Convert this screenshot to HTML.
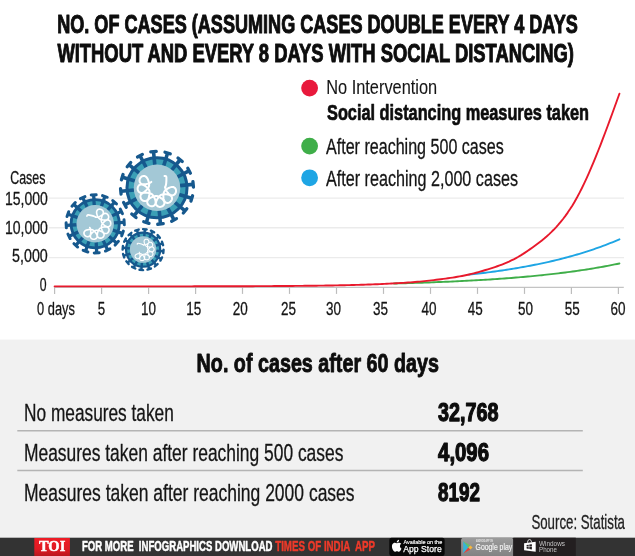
<!DOCTYPE html>
<html><head><meta charset="utf-8"><title>No. of cases</title>
<style>html,body{margin:0;padding:0;background:#fff;overflow:hidden}svg text{white-space:pre}</style></head>
<body>
<svg width="635" height="556" viewBox="0 0 635 556" style="display:block;will-change:transform">
<rect x="0" y="0" width="635" height="556" fill="#ffffff"/>
<text x="57.2" y="33.4" font-family='"Liberation Sans", Arial, sans-serif' font-size="25" font-weight="bold" fill="#0d0d0d" text-anchor="start" textLength="520.6" lengthAdjust="spacingAndGlyphs" stroke="#0d0d0d" stroke-width="1.0" stroke-linejoin="round">NO. OF CASES (ASSUMING CASES DOUBLE EVERY 4 DAYS</text>
<text x="57.4" y="62.1" font-family='"Liberation Sans", Arial, sans-serif' font-size="25" font-weight="bold" fill="#0d0d0d" text-anchor="start" textLength="516.6" lengthAdjust="spacingAndGlyphs" stroke="#0d0d0d" stroke-width="1.0" stroke-linejoin="round">WITHOUT AND EVERY 8 DAYS WITH SOCIAL DISTANCING)</text>
<line x1="49" x2="624" y1="257.6" y2="257.6" stroke="#ebebeb" stroke-width="1.4"/>
<line x1="49" x2="624" y1="227.8" y2="227.8" stroke="#ebebeb" stroke-width="1.4"/>
<line x1="49" x2="624" y1="198.1" y2="198.1" stroke="#ebebeb" stroke-width="1.4"/>
<line x1="54.6" x2="623.8" y1="287.3" y2="287.3" stroke="#c4c4c4" stroke-width="1.2"/>
<line x1="54.6" x2="54.6" y1="287.3" y2="293.9" stroke="#bdbdbd" stroke-width="1.2"/>
<line x1="101.6" x2="101.6" y1="287.3" y2="293.9" stroke="#bdbdbd" stroke-width="1.2"/>
<line x1="148.6" x2="148.6" y1="287.3" y2="293.9" stroke="#bdbdbd" stroke-width="1.2"/>
<line x1="195.6" x2="195.6" y1="287.3" y2="293.9" stroke="#bdbdbd" stroke-width="1.2"/>
<line x1="242.5" x2="242.5" y1="287.3" y2="293.9" stroke="#bdbdbd" stroke-width="1.2"/>
<line x1="289.5" x2="289.5" y1="287.3" y2="293.9" stroke="#bdbdbd" stroke-width="1.2"/>
<line x1="336.5" x2="336.5" y1="287.3" y2="293.9" stroke="#bdbdbd" stroke-width="1.2"/>
<line x1="383.5" x2="383.5" y1="287.3" y2="293.9" stroke="#bdbdbd" stroke-width="1.2"/>
<line x1="430.5" x2="430.5" y1="287.3" y2="293.9" stroke="#bdbdbd" stroke-width="1.2"/>
<line x1="477.5" x2="477.5" y1="287.3" y2="293.9" stroke="#bdbdbd" stroke-width="1.2"/>
<line x1="524.5" x2="524.5" y1="287.3" y2="293.9" stroke="#bdbdbd" stroke-width="1.2"/>
<line x1="571.4" x2="571.4" y1="287.3" y2="293.9" stroke="#bdbdbd" stroke-width="1.2"/>
<line x1="618.4" x2="618.4" y1="287.3" y2="293.9" stroke="#bdbdbd" stroke-width="1.2"/>
<g transform="translate(157.0,187.8)">
<circle r="30.02" fill="#3b9fb6"/>
<g transform="rotate(17.00)"><rect x="22.99" y="-1.80" width="13.06" height="3.60" fill="#16588d"/><line x1="36.35" y1="-2.75" x2="36.35" y2="2.75" stroke="#16588d" stroke-width="3.30" stroke-linecap="round"/></g>
<g transform="rotate(39.50)"><rect x="22.99" y="-1.80" width="13.06" height="3.60" fill="#16588d"/><line x1="36.35" y1="-2.75" x2="36.35" y2="2.75" stroke="#16588d" stroke-width="3.30" stroke-linecap="round"/></g>
<g transform="rotate(62.00)"><rect x="22.99" y="-1.80" width="13.06" height="3.60" fill="#16588d"/><line x1="36.35" y1="-2.75" x2="36.35" y2="2.75" stroke="#16588d" stroke-width="3.30" stroke-linecap="round"/></g>
<g transform="rotate(84.50)"><rect x="22.99" y="-1.80" width="13.06" height="3.60" fill="#16588d"/><line x1="36.35" y1="-2.75" x2="36.35" y2="2.75" stroke="#16588d" stroke-width="3.30" stroke-linecap="round"/></g>
<g transform="rotate(107.00)"><rect x="22.99" y="-1.80" width="13.06" height="3.60" fill="#16588d"/><line x1="36.35" y1="-2.75" x2="36.35" y2="2.75" stroke="#16588d" stroke-width="3.30" stroke-linecap="round"/></g>
<g transform="rotate(129.50)"><rect x="22.99" y="-1.80" width="13.06" height="3.60" fill="#16588d"/><line x1="36.35" y1="-2.75" x2="36.35" y2="2.75" stroke="#16588d" stroke-width="3.30" stroke-linecap="round"/></g>
<g transform="rotate(152.00)"><rect x="22.99" y="-1.80" width="13.06" height="3.60" fill="#16588d"/><line x1="36.35" y1="-2.75" x2="36.35" y2="2.75" stroke="#16588d" stroke-width="3.30" stroke-linecap="round"/></g>
<g transform="rotate(174.50)"><rect x="22.99" y="-1.80" width="13.06" height="3.60" fill="#16588d"/><line x1="36.35" y1="-2.75" x2="36.35" y2="2.75" stroke="#16588d" stroke-width="3.30" stroke-linecap="round"/></g>
<g transform="rotate(197.00)"><rect x="22.99" y="-1.80" width="13.06" height="3.60" fill="#16588d"/><line x1="36.35" y1="-2.75" x2="36.35" y2="2.75" stroke="#16588d" stroke-width="3.30" stroke-linecap="round"/></g>
<g transform="rotate(219.50)"><rect x="22.99" y="-1.80" width="13.06" height="3.60" fill="#16588d"/><line x1="36.35" y1="-2.75" x2="36.35" y2="2.75" stroke="#16588d" stroke-width="3.30" stroke-linecap="round"/></g>
<g transform="rotate(242.00)"><rect x="22.99" y="-1.80" width="13.06" height="3.60" fill="#16588d"/><line x1="36.35" y1="-2.75" x2="36.35" y2="2.75" stroke="#16588d" stroke-width="3.30" stroke-linecap="round"/></g>
<g transform="rotate(264.50)"><rect x="22.99" y="-1.80" width="13.06" height="3.60" fill="#16588d"/><line x1="36.35" y1="-2.75" x2="36.35" y2="2.75" stroke="#16588d" stroke-width="3.30" stroke-linecap="round"/></g>
<g transform="rotate(287.00)"><rect x="22.99" y="-1.80" width="13.06" height="3.60" fill="#16588d"/><line x1="36.35" y1="-2.75" x2="36.35" y2="2.75" stroke="#16588d" stroke-width="3.30" stroke-linecap="round"/></g>
<g transform="rotate(309.50)"><rect x="22.99" y="-1.80" width="13.06" height="3.60" fill="#16588d"/><line x1="36.35" y1="-2.75" x2="36.35" y2="2.75" stroke="#16588d" stroke-width="3.30" stroke-linecap="round"/></g>
<g transform="rotate(332.00)"><rect x="22.99" y="-1.80" width="13.06" height="3.60" fill="#16588d"/><line x1="36.35" y1="-2.75" x2="36.35" y2="2.75" stroke="#16588d" stroke-width="3.30" stroke-linecap="round"/></g>
<g transform="rotate(354.50)"><rect x="22.99" y="-1.80" width="13.06" height="3.60" fill="#16588d"/><line x1="36.35" y1="-2.75" x2="36.35" y2="2.75" stroke="#16588d" stroke-width="3.30" stroke-linecap="round"/></g>
<circle r="30.02" fill="none" stroke="#16588d" stroke-width="3.00"/>
<circle r="23.29" fill="#a3c8d6"/>
<g transform="rotate(0)" fill="none" stroke="#ffffff" stroke-width="2.00" stroke-linecap="round" stroke-linejoin="round">
<path d="M-5.69,-5.90 L-6.12,-5.53 L-6.60,-5.21 L-7.14,-4.91 L-7.74,-4.64 L-8.39,-4.40 L-9.09,-4.16 L-9.83,-3.95 L-10.61,-3.76 L-11.40,-3.61 L-12.21,-3.50 L-13.02,-3.46 L-13.80,-3.49 L-14.55,-3.61 L-15.26,-3.84 L-15.90,-4.17 L-16.45,-4.62 L-16.90,-5.17 L-17.24,-5.82 L-17.44,-6.55 L-17.50,-7.33 L-17.41,-8.13 L-17.18,-8.92 L-16.81,-9.68 L-16.32,-10.35 L-15.73,-10.93 L-15.07,-11.37 L-14.36,-11.68 L-13.63,-11.84 L-12.91,-11.84 L-12.21,-11.70 L-11.56,-11.41 L-10.96,-11.00 L-10.42,-10.48 L-9.95,-9.88 L-9.53,-9.20 L-9.17,-8.48 L-8.86,-7.72 L-8.60,-6.96 L-8.37,-6.20 L-8.19,-5.46 L-8.04,-4.75 L-7.93,-4.07 L-7.87,-3.43 L-7.86,-2.83 L-7.91,-2.26 L-8.02,-1.71 L-8.20,-1.17 L-8.45,-0.64 L-8.76,-0.10 L-9.13,0.46 L-9.56,1.02 L-10.03,1.60 L-10.56,2.18 L-11.12,2.76 L-11.71,3.31 L-12.34,3.82 L-13.00,4.28 L-13.69,4.65 L-14.39,4.93 L-15.11,5.09 L-15.82,5.11 L-16.52,5.00 L-17.19,4.73 L-17.81,4.33 L-18.35,3.79 L-18.79,3.14 L-19.12,2.39 L-19.31,1.59 L-19.37,0.75 L-19.29,-0.08 L-19.07,-0.86 L-18.72,-1.57 L-18.26,-2.19 L-17.71,-2.68 L-17.08,-3.03 L-16.40,-3.25 L-15.69,-3.32 L-14.96,-3.27 L-14.23,-3.09 L-13.51,-2.81 L-12.80,-2.44 L-12.11,-2.01 L-11.45,-1.54 L-10.82,-1.03 L-10.23,-0.51 L-9.69,0.01 L-9.19,0.52 L-8.75,1.03 L-8.37,1.53 L-8.05,2.03 L-7.80,2.54 L-7.62,3.07 L-7.50,3.63 L-7.43,4.22 L-7.41,4.86 L-7.43,5.53 L-7.50,6.25 L-7.59,7.01 L-7.72,7.78 L-7.89,8.57 L-8.11,9.36 L-8.37,10.12 L-8.70,10.85 L-9.09,11.52 L-9.55,12.11 L-10.09,12.60 L-10.70,12.97 L-11.37,13.22 L-12.08,13.32 L-12.82,13.27 L-13.56,13.07 L-14.28,12.72 L-14.94,12.23 L-15.52,11.63 L-15.99,10.94 L-16.33,10.18 L-16.53,9.40 L-16.58,8.61 L-16.48,7.86 L-16.24,7.17 L-15.88,6.55 L-15.39,6.03 L-14.81,5.61 L-14.15,5.29 L-13.42,5.07 L-12.65,4.94 L-11.85,4.88 L-11.03,4.89 L-10.22,4.94 L-9.43,5.03 L-8.66,5.16 L-7.93,5.30 L-7.25,5.47 L-6.62,5.67 L-6.04,5.89 L-5.52,6.15 L-5.05,6.46 L-4.62,6.82 L-4.22,7.24 L-3.84,7.72 L-3.49,8.26 L-3.14,8.86 L-2.81,9.51 L-2.49,10.21 L-2.18,10.94 L-1.91,11.70 L-1.67,12.48 L-1.50,13.27 L-1.40,14.06 L-1.40,14.82 L-1.50,15.56 L-1.72,16.25 L-2.06,16.87 L-2.52,17.42 L-3.10,17.86 L-3.77,18.18 L-4.53,18.38 L-5.33,18.43 L-6.15,18.34 L-6.95,18.11 L-7.70,17.74 L-8.37,17.26 L-8.93,16.69 L-9.36,16.04 L-9.65,15.34 L-9.78,14.63 L-9.76,13.92 L-9.60,13.22 L-9.30,12.57 L-8.88,11.95 L-8.36,11.38 L-7.77,10.87 L-7.11,10.40 L-6.42,9.97 L-5.70,9.59 L-4.98,9.25 L-4.28,8.95 L-3.59,8.69 L-2.93,8.47 L-2.31,8.31 L-1.71,8.20 L-1.13,8.16 L-0.57,8.18 L-0.02,8.27 L0.55,8.42 L1.13,8.64 L1.72,8.92 L2.34,9.25 L2.98,9.63 L3.64,10.05 L4.29,10.51 L4.93,11.01 L5.54,11.55 L6.09,12.13 L6.58,12.75 L6.97,13.40 L7.25,14.08 L7.40,14.78 L7.41,15.49 L7.28,16.20 L6.99,16.87 L6.56,17.49 L5.99,18.04 L5.32,18.49 L4.56,18.82 L3.75,19.02 L2.92,19.09 L2.10,19.00 L1.34,18.79 L0.65,18.44 L0.07,17.98 L-0.40,17.43 L-0.73,16.80 L-0.93,16.11 L-1.00,15.39 L-0.95,14.64 L-0.79,13.88 L-0.55,13.13 L-0.24,12.38 L0.13,11.65 L0.53,10.95 L0.95,10.29 L1.39,9.66 L1.82,9.09 L2.26,8.57 L2.70,8.11 L3.14,7.71 L3.61,7.38 L4.10,7.11 L4.63,6.90 L5.20,6.74 L5.81,6.62 L6.48,6.53 L7.19,6.48 L7.95,6.46 L8.73,6.47 L9.54,6.52 L10.35,6.61 L11.15,6.75 L11.92,6.95 L12.64,7.23 L13.31,7.59 L13.89,8.03 L14.36,8.56 L14.72,9.18 L14.95,9.86 L15.03,10.59 L14.96,11.36 L14.75,12.12 L14.38,12.85 L13.89,13.52 L13.29,14.10 L12.60,14.57 L11.86,14.90 L11.10,15.09 L10.34,15.13 L9.61,15.02 L8.94,14.77 L8.34,14.39 L7.82,13.89 L7.40,13.29 L7.06,12.61 L6.80,11.88 L6.61,11.10 L6.49,10.30 L6.42,9.49 L6.38,8.68 L6.39,7.90 L6.42,7.15 L6.48,6.45 L6.57,5.79 L6.70,5.18 L6.88,4.62 L7.11,4.10 L7.39,3.61 L7.73,3.16 L8.14,2.71 L8.61,2.28 L9.15,1.85 L9.73,1.42 L10.37,1.00 L11.05,0.58 L11.75,0.19 L12.49,-0.16 L13.24,-0.46 L14.00,-0.68 L14.76,-0.82 L15.50,-0.84 L16.22,-0.75 L16.90,-0.52 L17.51,-0.16 L18.05,0.32 L18.49,0.93 L18.81,1.63 L19.00,2.41 L19.05,3.23 L18.96,4.06 L18.74,4.86 L18.38,5.61 L17.91,6.26 L17.34,6.80 L16.71,7.21 L16.02,7.46 L15.32,7.57 L14.61,7.53 L13.91,7.36 L13.23,7.05 L12.59,6.64 L11.99,6.14 L11.42,5.57 L10.89,4.95 L10.40,4.30 L9.95,3.64 L9.54,2.99 L9.17,2.35 L8.86,1.73 L8.59,1.13 L8.39,0.55 L8.25,-0.01 L8.18,-0.57"/>
<path d="M8.18,-0.57 Q9.60,-3.50 9.40,-10.60 q-0.20,-1.60 -1.90,-1.20"/>
</g></g>
<g transform="translate(95.2,223.8)">
<circle r="24.10" fill="#3b9fb6"/>
<g transform="rotate(-3.00)"><rect x="18.40" y="-1.65" width="10.30" height="3.30" fill="#16588d"/><line x1="29.00" y1="-2.50" x2="29.00" y2="2.50" stroke="#16588d" stroke-width="3.00" stroke-linecap="round"/></g>
<g transform="rotate(19.50)"><rect x="18.40" y="-1.65" width="10.30" height="3.30" fill="#16588d"/><line x1="29.00" y1="-2.50" x2="29.00" y2="2.50" stroke="#16588d" stroke-width="3.00" stroke-linecap="round"/></g>
<g transform="rotate(42.00)"><rect x="18.40" y="-1.65" width="10.30" height="3.30" fill="#16588d"/><line x1="29.00" y1="-2.50" x2="29.00" y2="2.50" stroke="#16588d" stroke-width="3.00" stroke-linecap="round"/></g>
<g transform="rotate(64.50)"><rect x="18.40" y="-1.65" width="10.30" height="3.30" fill="#16588d"/><line x1="29.00" y1="-2.50" x2="29.00" y2="2.50" stroke="#16588d" stroke-width="3.00" stroke-linecap="round"/></g>
<g transform="rotate(87.00)"><rect x="18.40" y="-1.65" width="10.30" height="3.30" fill="#16588d"/><line x1="29.00" y1="-2.50" x2="29.00" y2="2.50" stroke="#16588d" stroke-width="3.00" stroke-linecap="round"/></g>
<g transform="rotate(109.50)"><rect x="18.40" y="-1.65" width="10.30" height="3.30" fill="#16588d"/><line x1="29.00" y1="-2.50" x2="29.00" y2="2.50" stroke="#16588d" stroke-width="3.00" stroke-linecap="round"/></g>
<g transform="rotate(132.00)"><rect x="18.40" y="-1.65" width="10.30" height="3.30" fill="#16588d"/><line x1="29.00" y1="-2.50" x2="29.00" y2="2.50" stroke="#16588d" stroke-width="3.00" stroke-linecap="round"/></g>
<g transform="rotate(154.50)"><rect x="18.40" y="-1.65" width="10.30" height="3.30" fill="#16588d"/><line x1="29.00" y1="-2.50" x2="29.00" y2="2.50" stroke="#16588d" stroke-width="3.00" stroke-linecap="round"/></g>
<g transform="rotate(177.00)"><rect x="18.40" y="-1.65" width="10.30" height="3.30" fill="#16588d"/><line x1="29.00" y1="-2.50" x2="29.00" y2="2.50" stroke="#16588d" stroke-width="3.00" stroke-linecap="round"/></g>
<g transform="rotate(199.50)"><rect x="18.40" y="-1.65" width="10.30" height="3.30" fill="#16588d"/><line x1="29.00" y1="-2.50" x2="29.00" y2="2.50" stroke="#16588d" stroke-width="3.00" stroke-linecap="round"/></g>
<g transform="rotate(222.00)"><rect x="18.40" y="-1.65" width="10.30" height="3.30" fill="#16588d"/><line x1="29.00" y1="-2.50" x2="29.00" y2="2.50" stroke="#16588d" stroke-width="3.00" stroke-linecap="round"/></g>
<g transform="rotate(244.50)"><rect x="18.40" y="-1.65" width="10.30" height="3.30" fill="#16588d"/><line x1="29.00" y1="-2.50" x2="29.00" y2="2.50" stroke="#16588d" stroke-width="3.00" stroke-linecap="round"/></g>
<g transform="rotate(267.00)"><rect x="18.40" y="-1.65" width="10.30" height="3.30" fill="#16588d"/><line x1="29.00" y1="-2.50" x2="29.00" y2="2.50" stroke="#16588d" stroke-width="3.00" stroke-linecap="round"/></g>
<g transform="rotate(289.50)"><rect x="18.40" y="-1.65" width="10.30" height="3.30" fill="#16588d"/><line x1="29.00" y1="-2.50" x2="29.00" y2="2.50" stroke="#16588d" stroke-width="3.00" stroke-linecap="round"/></g>
<g transform="rotate(312.00)"><rect x="18.40" y="-1.65" width="10.30" height="3.30" fill="#16588d"/><line x1="29.00" y1="-2.50" x2="29.00" y2="2.50" stroke="#16588d" stroke-width="3.00" stroke-linecap="round"/></g>
<g transform="rotate(334.50)"><rect x="18.40" y="-1.65" width="10.30" height="3.30" fill="#16588d"/><line x1="29.00" y1="-2.50" x2="29.00" y2="2.50" stroke="#16588d" stroke-width="3.00" stroke-linecap="round"/></g>
<circle r="24.10" fill="none" stroke="#16588d" stroke-width="2.80"/>
<circle r="18.70" fill="#a3c8d6"/>
<g transform="rotate(-80)" fill="none" stroke="#ffffff" stroke-width="1.60" stroke-linecap="round" stroke-linejoin="round">
<path d="M-4.57,-4.73 L-4.91,-4.44 L-5.30,-4.18 L-5.73,-3.94 L-6.21,-3.73 L-6.73,-3.53 L-7.29,-3.34 L-7.89,-3.17 L-8.51,-3.02 L-9.15,-2.90 L-9.80,-2.81 L-10.45,-2.78 L-11.08,-2.80 L-11.68,-2.90 L-12.25,-3.08 L-12.76,-3.35 L-13.20,-3.71 L-13.57,-4.15 L-13.83,-4.67 L-14.00,-5.26 L-14.04,-5.88 L-13.97,-6.53 L-13.79,-7.16 L-13.49,-7.77 L-13.10,-8.31 L-12.63,-8.77 L-12.10,-9.13 L-11.53,-9.38 L-10.94,-9.50 L-10.36,-9.50 L-9.80,-9.39 L-9.27,-9.16 L-8.79,-8.83 L-8.36,-8.41 L-7.98,-7.93 L-7.65,-7.38 L-7.36,-6.80 L-7.11,-6.20 L-6.90,-5.58 L-6.72,-4.97 L-6.57,-4.38 L-6.45,-3.81 L-6.36,-3.27 L-6.31,-2.75 L-6.31,-2.27 L-6.35,-1.81 L-6.44,-1.37 L-6.58,-0.94 L-6.78,-0.51 L-7.03,-0.08 L-7.33,0.37 L-7.67,0.82 L-8.05,1.28 L-8.47,1.75 L-8.92,2.21 L-9.40,2.66 L-9.91,3.07 L-10.43,3.43 L-10.98,3.73 L-11.55,3.96 L-12.12,4.08 L-12.70,4.10 L-13.26,4.01 L-13.80,3.80 L-14.29,3.48 L-14.73,3.04 L-15.08,2.52 L-15.34,1.92 L-15.50,1.27 L-15.55,0.60 L-15.48,-0.06 L-15.30,-0.69 L-15.02,-1.26 L-14.66,-1.75 L-14.21,-2.15 L-13.71,-2.43 L-13.17,-2.61 L-12.59,-2.67 L-12.01,-2.62 L-11.42,-2.48 L-10.84,-2.26 L-10.27,-1.96 L-9.72,-1.62 L-9.19,-1.23 L-8.69,-0.83 L-8.21,-0.41 L-7.77,0.00 L-7.38,0.42 L-7.02,0.82 L-6.72,1.23 L-6.46,1.63 L-6.26,2.04 L-6.12,2.46 L-6.02,2.91 L-5.96,3.39 L-5.95,3.90 L-5.97,4.44 L-6.02,5.02 L-6.09,5.62 L-6.20,6.25 L-6.34,6.88 L-6.51,7.51 L-6.72,8.13 L-6.98,8.71 L-7.30,9.24 L-7.67,9.72 L-8.10,10.11 L-8.59,10.41 L-9.12,10.61 L-9.70,10.69 L-10.29,10.65 L-10.89,10.49 L-11.46,10.21 L-11.99,9.82 L-12.45,9.33 L-12.83,8.78 L-13.10,8.17 L-13.26,7.54 L-13.31,6.91 L-13.23,6.31 L-13.04,5.75 L-12.74,5.26 L-12.35,4.84 L-11.89,4.50 L-11.35,4.25 L-10.77,4.07 L-10.15,3.96 L-9.51,3.92 L-8.86,3.92 L-8.20,3.97 L-7.57,4.04 L-6.95,4.14 L-6.36,4.26 L-5.82,4.39 L-5.31,4.55 L-4.85,4.73 L-4.43,4.94 L-4.05,5.19 L-3.70,5.48 L-3.39,5.81 L-3.09,6.20 L-2.80,6.63 L-2.52,7.11 L-2.25,7.63 L-2.00,8.19 L-1.75,8.78 L-1.53,9.39 L-1.34,10.02 L-1.20,10.65 L-1.13,11.28 L-1.12,11.90 L-1.20,12.49 L-1.38,13.04 L-1.65,13.54 L-2.02,13.98 L-2.49,14.33 L-3.03,14.59 L-3.63,14.75 L-4.28,14.79 L-4.93,14.72 L-5.58,14.53 L-6.18,14.24 L-6.72,13.85 L-7.17,13.39 L-7.51,12.87 L-7.74,12.32 L-7.85,11.74 L-7.83,11.17 L-7.70,10.61 L-7.46,10.09 L-7.13,9.59 L-6.71,9.14 L-6.23,8.72 L-5.71,8.35 L-5.15,8.01 L-4.58,7.70 L-4.00,7.42 L-3.43,7.18 L-2.88,6.97 L-2.35,6.80 L-1.85,6.67 L-1.37,6.58 L-0.91,6.55 L-0.46,6.56 L-0.01,6.64 L0.44,6.76 L0.90,6.93 L1.38,7.16 L1.88,7.42 L2.40,7.73 L2.92,8.07 L3.44,8.44 L3.96,8.84 L4.44,9.27 L4.89,9.74 L5.28,10.23 L5.59,10.75 L5.82,11.30 L5.94,11.86 L5.95,12.44 L5.84,13.00 L5.61,13.54 L5.26,14.04 L4.81,14.48 L4.27,14.84 L3.66,15.11 L3.01,15.27 L2.34,15.32 L1.69,15.25 L1.07,15.08 L0.52,14.80 L0.05,14.43 L-0.32,13.99 L-0.59,13.48 L-0.75,12.93 L-0.80,12.35 L-0.76,11.75 L-0.64,11.14 L-0.44,10.54 L-0.19,9.94 L0.11,9.35 L0.43,8.79 L0.77,8.26 L1.11,7.75 L1.46,7.29 L1.81,6.88 L2.16,6.51 L2.52,6.19 L2.90,5.92 L3.29,5.71 L3.71,5.54 L4.17,5.41 L4.67,5.31 L5.20,5.24 L5.77,5.20 L6.38,5.19 L7.01,5.20 L7.66,5.23 L8.31,5.30 L8.95,5.42 L9.57,5.58 L10.15,5.80 L10.68,6.09 L11.14,6.45 L11.53,6.87 L11.82,7.36 L12.00,7.91 L12.06,8.50 L12.01,9.11 L11.84,9.73 L11.54,10.31 L11.15,10.85 L10.67,11.32 L10.12,11.69 L9.52,11.96 L8.91,12.12 L8.30,12.15 L7.71,12.06 L7.17,11.85 L6.69,11.55 L6.28,11.15 L5.94,10.67 L5.66,10.13 L5.46,9.53 L5.31,8.91 L5.21,8.26 L5.15,7.61 L5.12,6.97 L5.13,6.34 L5.15,5.74 L5.20,5.18 L5.28,4.65 L5.38,4.16 L5.52,3.71 L5.70,3.29 L5.93,2.90 L6.21,2.53 L6.54,2.18 L6.91,1.83 L7.34,1.49 L7.81,1.14 L8.32,0.80 L8.87,0.47 L9.43,0.16 L10.02,-0.13 L10.63,-0.37 L11.24,-0.55 L11.85,-0.66 L12.44,-0.68 L13.02,-0.60 L13.56,-0.42 L14.06,-0.13 L14.49,0.26 L14.84,0.74 L15.10,1.31 L15.25,1.93 L15.29,2.59 L15.22,3.26 L15.04,3.90 L14.75,4.50 L14.37,5.03 L13.92,5.46 L13.41,5.78 L12.86,5.99 L12.29,6.08 L11.72,6.05 L11.16,5.90 L10.62,5.66 L10.11,5.33 L9.62,4.93 L9.17,4.47 L8.74,3.97 L8.35,3.45 L7.99,2.92 L7.66,2.40 L7.36,1.88 L7.11,1.38 L6.90,0.90 L6.73,0.44 L6.62,-0.01 L6.56,-0.46"/>
<path d="M6.56,-0.46 Q7.70,-2.81 7.54,-8.51 q-0.16,-1.28 -1.52,-0.96"/>
</g></g>
<g transform="translate(143.1,249.6)">
<circle r="17.06" fill="#3b9fb6"/>
<g transform="rotate(5.00)"><rect x="12.94" y="-1.25" width="7.16" height="2.50" fill="#16588d"/><line x1="20.40" y1="-1.80" x2="20.40" y2="1.80" stroke="#16588d" stroke-width="2.40" stroke-linecap="round"/></g>
<g transform="rotate(27.50)"><rect x="12.94" y="-1.25" width="7.16" height="2.50" fill="#16588d"/><line x1="20.40" y1="-1.80" x2="20.40" y2="1.80" stroke="#16588d" stroke-width="2.40" stroke-linecap="round"/></g>
<g transform="rotate(50.00)"><rect x="12.94" y="-1.25" width="7.16" height="2.50" fill="#16588d"/><line x1="20.40" y1="-1.80" x2="20.40" y2="1.80" stroke="#16588d" stroke-width="2.40" stroke-linecap="round"/></g>
<g transform="rotate(72.50)"><rect x="12.94" y="-1.25" width="7.16" height="2.50" fill="#16588d"/><line x1="20.40" y1="-1.80" x2="20.40" y2="1.80" stroke="#16588d" stroke-width="2.40" stroke-linecap="round"/></g>
<g transform="rotate(95.00)"><rect x="12.94" y="-1.25" width="7.16" height="2.50" fill="#16588d"/><line x1="20.40" y1="-1.80" x2="20.40" y2="1.80" stroke="#16588d" stroke-width="2.40" stroke-linecap="round"/></g>
<g transform="rotate(117.50)"><rect x="12.94" y="-1.25" width="7.16" height="2.50" fill="#16588d"/><line x1="20.40" y1="-1.80" x2="20.40" y2="1.80" stroke="#16588d" stroke-width="2.40" stroke-linecap="round"/></g>
<g transform="rotate(140.00)"><rect x="12.94" y="-1.25" width="7.16" height="2.50" fill="#16588d"/><line x1="20.40" y1="-1.80" x2="20.40" y2="1.80" stroke="#16588d" stroke-width="2.40" stroke-linecap="round"/></g>
<g transform="rotate(162.50)"><rect x="12.94" y="-1.25" width="7.16" height="2.50" fill="#16588d"/><line x1="20.40" y1="-1.80" x2="20.40" y2="1.80" stroke="#16588d" stroke-width="2.40" stroke-linecap="round"/></g>
<g transform="rotate(185.00)"><rect x="12.94" y="-1.25" width="7.16" height="2.50" fill="#16588d"/><line x1="20.40" y1="-1.80" x2="20.40" y2="1.80" stroke="#16588d" stroke-width="2.40" stroke-linecap="round"/></g>
<g transform="rotate(207.50)"><rect x="12.94" y="-1.25" width="7.16" height="2.50" fill="#16588d"/><line x1="20.40" y1="-1.80" x2="20.40" y2="1.80" stroke="#16588d" stroke-width="2.40" stroke-linecap="round"/></g>
<g transform="rotate(230.00)"><rect x="12.94" y="-1.25" width="7.16" height="2.50" fill="#16588d"/><line x1="20.40" y1="-1.80" x2="20.40" y2="1.80" stroke="#16588d" stroke-width="2.40" stroke-linecap="round"/></g>
<g transform="rotate(252.50)"><rect x="12.94" y="-1.25" width="7.16" height="2.50" fill="#16588d"/><line x1="20.40" y1="-1.80" x2="20.40" y2="1.80" stroke="#16588d" stroke-width="2.40" stroke-linecap="round"/></g>
<g transform="rotate(275.00)"><rect x="12.94" y="-1.25" width="7.16" height="2.50" fill="#16588d"/><line x1="20.40" y1="-1.80" x2="20.40" y2="1.80" stroke="#16588d" stroke-width="2.40" stroke-linecap="round"/></g>
<g transform="rotate(297.50)"><rect x="12.94" y="-1.25" width="7.16" height="2.50" fill="#16588d"/><line x1="20.40" y1="-1.80" x2="20.40" y2="1.80" stroke="#16588d" stroke-width="2.40" stroke-linecap="round"/></g>
<g transform="rotate(320.00)"><rect x="12.94" y="-1.25" width="7.16" height="2.50" fill="#16588d"/><line x1="20.40" y1="-1.80" x2="20.40" y2="1.80" stroke="#16588d" stroke-width="2.40" stroke-linecap="round"/></g>
<g transform="rotate(342.50)"><rect x="12.94" y="-1.25" width="7.16" height="2.50" fill="#16588d"/><line x1="20.40" y1="-1.80" x2="20.40" y2="1.80" stroke="#16588d" stroke-width="2.40" stroke-linecap="round"/></g>
<circle r="17.06" fill="none" stroke="#16588d" stroke-width="2.20"/>
<circle r="13.24" fill="#a3c8d6"/>
<g transform="rotate(-80)" fill="none" stroke="#ffffff" stroke-width="1.14" stroke-linecap="round" stroke-linejoin="round">
<path d="M-3.24,-3.35 L-3.48,-3.14 L-3.75,-2.96 L-4.06,-2.79 L-4.40,-2.64 L-4.77,-2.50 L-5.17,-2.37 L-5.59,-2.25 L-6.03,-2.14 L-6.48,-2.05 L-6.94,-1.99 L-7.40,-1.97 L-7.84,-1.98 L-8.27,-2.05 L-8.67,-2.18 L-9.04,-2.37 L-9.35,-2.63 L-9.61,-2.94 L-9.80,-3.31 L-9.91,-3.72 L-9.95,-4.17 L-9.90,-4.62 L-9.76,-5.07 L-9.55,-5.50 L-9.28,-5.88 L-8.94,-6.21 L-8.57,-6.47 L-8.16,-6.64 L-7.75,-6.73 L-7.34,-6.73 L-6.94,-6.65 L-6.57,-6.49 L-6.23,-6.25 L-5.92,-5.96 L-5.65,-5.61 L-5.42,-5.23 L-5.21,-4.82 L-5.04,-4.39 L-4.89,-3.95 L-4.76,-3.52 L-4.65,-3.10 L-4.57,-2.70 L-4.51,-2.31 L-4.47,-1.95 L-4.47,-1.61 L-4.50,-1.28 L-4.56,-0.97 L-4.66,-0.67 L-4.80,-0.36 L-4.98,-0.06 L-5.19,0.26 L-5.43,0.58 L-5.70,0.91 L-6.00,1.24 L-6.32,1.57 L-6.66,1.88 L-7.02,2.17 L-7.39,2.43 L-7.78,2.64 L-8.18,2.80 L-8.59,2.89 L-8.99,2.91 L-9.39,2.84 L-9.77,2.69 L-10.12,2.46 L-10.43,2.16 L-10.68,1.78 L-10.87,1.36 L-10.98,0.90 L-11.01,0.43 L-10.96,-0.04 L-10.84,-0.49 L-10.64,-0.89 L-10.38,-1.24 L-10.06,-1.52 L-9.71,-1.72 L-9.32,-1.85 L-8.92,-1.89 L-8.51,-1.86 L-8.09,-1.76 L-7.68,-1.60 L-7.27,-1.39 L-6.88,-1.14 L-6.51,-0.87 L-6.15,-0.59 L-5.82,-0.29 L-5.51,0.00 L-5.22,0.30 L-4.97,0.58 L-4.76,0.87 L-4.58,1.15 L-4.44,1.44 L-4.33,1.75 L-4.26,2.06 L-4.22,2.40 L-4.21,2.76 L-4.23,3.15 L-4.26,3.55 L-4.32,3.98 L-4.39,4.42 L-4.49,4.87 L-4.61,5.32 L-4.76,5.75 L-4.94,6.17 L-5.17,6.55 L-5.43,6.88 L-5.74,7.16 L-6.08,7.37 L-6.46,7.51 L-6.87,7.57 L-7.29,7.54 L-7.71,7.43 L-8.12,7.23 L-8.49,6.95 L-8.82,6.61 L-9.09,6.22 L-9.28,5.79 L-9.39,5.34 L-9.42,4.90 L-9.37,4.47 L-9.23,4.07 L-9.02,3.73 L-8.75,3.43 L-8.42,3.19 L-8.04,3.01 L-7.63,2.88 L-7.19,2.81 L-6.73,2.77 L-6.27,2.78 L-5.81,2.81 L-5.36,2.86 L-4.92,2.93 L-4.51,3.01 L-4.12,3.11 L-3.76,3.22 L-3.43,3.35 L-3.14,3.50 L-2.87,3.67 L-2.62,3.88 L-2.40,4.12 L-2.19,4.39 L-1.98,4.70 L-1.79,5.04 L-1.60,5.41 L-1.41,5.80 L-1.24,6.22 L-1.08,6.65 L-0.95,7.10 L-0.85,7.54 L-0.80,7.99 L-0.79,8.43 L-0.85,8.84 L-0.98,9.24 L-1.17,9.59 L-1.43,9.90 L-1.76,10.15 L-2.15,10.34 L-2.57,10.45 L-3.03,10.48 L-3.49,10.42 L-3.95,10.29 L-4.38,10.09 L-4.76,9.81 L-5.08,9.48 L-5.32,9.12 L-5.48,8.72 L-5.56,8.32 L-5.55,7.91 L-5.45,7.52 L-5.28,7.14 L-5.05,6.79 L-4.75,6.47 L-4.41,6.18 L-4.04,5.91 L-3.65,5.67 L-3.24,5.45 L-2.83,5.26 L-2.43,5.09 L-2.04,4.94 L-1.67,4.82 L-1.31,4.72 L-0.97,4.66 L-0.65,4.64 L-0.33,4.65 L-0.01,4.70 L0.31,4.79 L0.64,4.91 L0.98,5.07 L1.33,5.26 L1.70,5.47 L2.07,5.71 L2.44,5.97 L2.80,6.26 L3.15,6.57 L3.46,6.90 L3.74,7.25 L3.96,7.62 L4.12,8.00 L4.21,8.40 L4.21,8.81 L4.14,9.21 L3.97,9.59 L3.73,9.94 L3.41,10.25 L3.02,10.51 L2.59,10.70 L2.13,10.81 L1.66,10.85 L1.20,10.80 L0.76,10.68 L0.37,10.48 L0.04,10.22 L-0.23,9.91 L-0.41,9.55 L-0.53,9.16 L-0.57,8.75 L-0.54,8.32 L-0.45,7.89 L-0.31,7.46 L-0.13,7.04 L0.07,6.62 L0.30,6.23 L0.54,5.85 L0.79,5.49 L1.04,5.16 L1.28,4.87 L1.53,4.61 L1.79,4.38 L2.05,4.20 L2.33,4.04 L2.63,3.92 L2.95,3.83 L3.30,3.76 L3.68,3.71 L4.09,3.69 L4.52,3.67 L4.96,3.68 L5.42,3.71 L5.88,3.76 L6.34,3.84 L6.77,3.95 L7.19,4.11 L7.56,4.31 L7.89,4.56 L8.16,4.87 L8.37,5.22 L8.50,5.60 L8.54,6.02 L8.51,6.45 L8.38,6.89 L8.18,7.30 L7.90,7.69 L7.55,8.02 L7.16,8.28 L6.74,8.47 L6.31,8.58 L5.88,8.60 L5.46,8.54 L5.08,8.40 L4.74,8.18 L4.45,7.89 L4.20,7.55 L4.01,7.17 L3.86,6.75 L3.76,6.31 L3.69,5.85 L3.65,5.39 L3.63,4.94 L3.63,4.49 L3.65,4.07 L3.68,3.66 L3.74,3.29 L3.81,2.94 L3.91,2.62 L4.04,2.33 L4.20,2.05 L4.40,1.79 L4.63,1.54 L4.90,1.30 L5.20,1.05 L5.53,0.81 L5.89,0.57 L6.28,0.33 L6.68,0.11 L7.10,-0.09 L7.53,-0.26 L7.96,-0.39 L8.39,-0.46 L8.81,-0.48 L9.22,-0.42 L9.61,-0.30 L9.96,-0.09 L10.26,0.18 L10.51,0.53 L10.69,0.93 L10.80,1.37 L10.83,1.83 L10.78,2.31 L10.65,2.76 L10.45,3.19 L10.18,3.56 L9.86,3.87 L9.50,4.10 L9.11,4.24 L8.71,4.30 L8.30,4.28 L7.91,4.18 L7.52,4.01 L7.16,3.77 L6.81,3.49 L6.49,3.16 L6.19,2.81 L5.91,2.44 L5.66,2.07 L5.42,1.70 L5.21,1.33 L5.03,0.98 L4.88,0.64 L4.77,0.31 L4.69,-0.01 L4.65,-0.33"/>
<path d="M4.65,-0.33 Q5.46,-1.99 5.34,-6.02 q-0.11,-0.91 -1.08,-0.68"/>
</g></g>
<g fill="none" stroke-linecap="round" stroke-linejoin="round">
<path d="M393.89,283.53 L396.24,283.47 L398.59,283.41 L400.94,283.34 L403.29,283.27 L405.64,283.20 L407.99,283.13 L410.34,283.06 L412.69,282.99 L415.04,282.92 L417.38,282.84 L419.73,282.76 L422.08,282.68 L424.43,282.60 L426.78,282.52 L429.13,282.43 L431.48,282.35 L433.83,282.26 L436.18,282.17 L438.53,282.07 L440.88,281.98 L443.23,281.88 L445.58,281.78 L447.92,281.68 L450.27,281.58 L452.62,281.47 L454.97,281.36 L457.32,281.25 L459.67,281.14 L462.02,281.03 L464.37,280.91 L466.72,280.79 L469.07,280.67 L471.42,280.54 L473.77,280.41 L476.12,280.28 L478.47,280.15 L480.81,280.01 L483.16,279.87 L485.51,279.73 L487.86,279.58 L490.21,279.43 L492.56,279.28 L494.91,279.12 L497.26,278.96 L499.61,278.80 L501.96,278.63 L504.31,278.46 L506.66,278.29 L509.01,278.11 L511.35,277.93 L513.70,277.75 L516.05,277.56 L518.40,277.36 L520.75,277.16 L523.10,276.96 L525.45,276.76 L527.80,276.54 L530.15,276.33 L532.50,276.11 L534.85,275.88 L537.20,275.65 L539.55,275.42 L541.89,275.18 L544.24,274.93 L546.59,274.68 L548.94,274.42 L551.29,274.16 L553.64,273.89 L555.99,273.62 L558.34,273.34 L560.69,273.05 L563.04,272.76 L565.39,272.46 L567.74,272.16 L570.09,271.85 L572.44,271.53 L574.78,271.20 L577.13,270.87 L579.48,270.53 L581.83,270.18 L584.18,269.83 L586.53,269.46 L588.88,269.09 L591.23,268.71 L593.58,268.33 L595.93,267.93 L598.28,267.53 L600.63,267.11 L602.98,266.69 L605.32,266.26 L607.67,265.82 L610.02,265.37 L612.37,264.91 L614.72,264.43 L617.07,263.95 L619.42,263.46" stroke="#3fae49" stroke-width="1.9"/>
<path d="M469.07,274.62 L471.42,274.37 L473.77,274.10 L476.12,273.83 L478.47,273.56 L480.81,273.28 L483.16,272.99 L485.51,272.70 L487.86,272.40 L490.21,272.09 L492.56,271.78 L494.91,271.46 L497.26,271.13 L499.61,270.79 L501.96,270.45 L504.31,270.10 L506.66,269.75 L509.01,269.38 L511.35,269.01 L513.70,268.63 L516.05,268.24 L518.40,267.84 L520.75,267.43 L523.10,267.02 L525.45,266.60 L527.80,266.16 L530.15,265.72 L532.50,265.27 L534.85,264.80 L537.20,264.33 L539.55,263.85 L541.89,263.35 L544.24,262.85 L546.59,262.33 L548.94,261.81 L551.29,261.27 L553.64,260.72 L555.99,260.15 L558.34,259.58 L560.69,258.99 L563.04,258.39 L565.39,257.78 L567.74,257.15 L570.09,256.51 L572.44,255.86 L574.78,255.19 L577.13,254.50 L579.48,253.81 L581.83,253.09 L584.18,252.36 L586.53,251.62 L588.88,250.86 L591.23,250.08 L593.58,249.28 L595.93,248.47 L598.28,247.64 L600.63,246.79 L602.98,245.92 L605.32,245.04 L607.67,244.13 L610.02,243.21 L612.37,242.26 L614.72,241.29 L617.07,240.31 L619.42,239.30" stroke="#1ea5e4" stroke-width="1.9"/>
<path d="M54.60,286.40 L55.60,286.39 L57.95,286.39 L60.30,286.39 L62.65,286.39 L65.00,286.39 L67.35,286.39 L69.70,286.39 L72.04,286.39 L74.39,286.39 L76.74,286.39 L79.09,286.39 L81.44,286.39 L83.79,286.39 L86.14,286.39 L88.49,286.39 L90.84,286.39 L93.19,286.39 L95.54,286.39 L97.89,286.39 L100.24,286.39 L102.59,286.39 L104.93,286.39 L107.28,286.38 L109.63,286.38 L111.98,286.38 L114.33,286.38 L116.68,286.38 L119.03,286.38 L121.38,286.38 L123.73,286.38 L126.08,286.38 L128.43,286.38 L130.78,286.38 L133.13,286.38 L135.47,286.37 L137.82,286.37 L140.17,286.37 L142.52,286.37 L144.87,286.37 L147.22,286.37 L149.57,286.37 L151.92,286.37 L154.27,286.36 L156.62,286.36 L158.97,286.36 L161.32,286.36 L163.67,286.36 L166.01,286.36 L168.36,286.35 L170.71,286.35 L173.06,286.35 L175.41,286.35 L177.76,286.34 L180.11,286.34 L182.46,286.34 L184.81,286.34 L187.16,286.33 L189.51,286.33 L191.86,286.33 L194.21,286.32 L196.56,286.32 L198.90,286.32 L201.25,286.31 L203.60,286.31 L205.95,286.31 L208.30,286.30 L210.65,286.30 L213.00,286.29 L215.35,286.29 L217.70,286.28 L220.05,286.28 L222.40,286.27 L224.75,286.27 L227.10,286.26 L229.44,286.26 L231.79,286.25 L234.14,286.24 L236.49,286.24 L238.84,286.23 L241.19,286.22 L243.54,286.21 L245.89,286.20 L248.24,286.19 L250.59,286.18 L252.94,286.18 L255.29,286.17 L257.64,286.16 L259.98,286.15 L262.33,286.14 L264.68,286.12 L267.03,286.11 L269.38,286.10 L271.73,286.09 L274.08,286.07 L276.43,286.06 L278.78,286.04 L281.13,286.03 L283.48,286.01 L285.83,285.99 L288.18,285.97 L290.53,285.95 L292.87,285.93 L295.22,285.91 L297.57,285.89 L299.92,285.87 L302.27,285.84 L304.62,285.82 L306.97,285.80 L309.32,285.77 L311.67,285.74 L314.02,285.72 L316.37,285.69 L318.72,285.66 L321.07,285.62 L323.41,285.59 L325.76,285.55 L328.11,285.51 L330.46,285.47 L332.81,285.43 L335.16,285.38 L337.51,285.34 L339.86,285.29 L342.21,285.23 L344.56,285.18 L346.91,285.13 L349.26,285.08 L351.61,285.02 L353.95,284.96 L356.30,284.90 L358.65,284.84 L361.00,284.77 L363.35,284.70 L365.70,284.63 L368.05,284.55 L370.40,284.47 L372.75,284.38 L375.10,284.29 L377.45,284.20 L379.80,284.09 L382.15,283.98 L384.50,283.87 L386.84,283.75 L389.19,283.63 L391.54,283.51 L393.89,283.38 L396.24,283.25 L398.59,283.12 L400.94,282.98 L403.29,282.84 L405.64,282.69 L407.99,282.53 L410.34,282.37 L412.69,282.19 L415.04,282.01 L417.38,281.81 L419.73,281.61 L422.08,281.39 L424.43,281.16 L426.78,280.91 L429.13,280.65 L431.48,280.38 L433.83,280.10 L436.18,279.81 L438.53,279.52 L440.88,279.22 L443.23,278.91 L445.58,278.60 L447.92,278.27 L450.27,277.93 L452.62,277.57 L454.97,277.20 L457.32,276.81 L459.67,276.39 L462.02,275.95 L464.37,275.49 L466.72,275.00 L469.07,274.48 L471.42,273.93 L473.77,273.35 L476.12,272.73 L478.47,272.08 L480.81,271.40 L483.16,270.72 L485.51,270.03 L487.86,269.32 L490.21,268.60 L492.56,267.85 L494.91,267.07 L497.26,266.26 L499.61,265.41 L501.96,264.52 L504.31,263.58 L506.66,262.59 L509.01,261.55 L511.35,260.45 L513.70,259.29 L516.05,258.05 L518.40,256.75 L520.75,255.36 L523.10,253.89 L525.45,252.34 L527.80,250.73 L530.15,249.11 L532.50,247.47 L534.85,245.79 L537.20,244.06 L539.55,242.27 L541.89,240.42 L544.24,238.49 L546.59,236.47 L548.94,234.35 L551.29,232.13 L553.64,229.78 L555.99,227.30 L558.34,224.68 L560.69,221.91 L563.04,218.98 L565.39,215.87 L567.74,212.58 L570.09,209.09 L572.44,205.39 L574.78,201.45 L577.13,197.27 L579.48,192.85 L581.83,188.20 L584.18,183.34 L586.53,178.29 L588.88,173.05 L591.23,167.64 L593.58,162.07 L595.93,156.35 L598.28,150.50 L600.63,144.53 L602.98,138.44 L605.32,132.26 L607.67,125.99 L610.02,119.64 L612.37,113.23 L614.72,106.77 L617.07,100.26 L619.42,93.72" stroke="#e8192c" stroke-width="1.9"/>
</g>
<circle cx="309.6" cy="88.1" r="8.4" fill="#e8193c"/>
<circle cx="309.6" cy="146.1" r="8.4" fill="#3fae49"/>
<circle cx="309.6" cy="177.8" r="8.4" fill="#1ea5e4"/>
<text x="326.2" y="93.9" font-family='"Liberation Sans", Arial, sans-serif' font-size="20.4" font-weight="normal" fill="#151515" text-anchor="start" textLength="111.0" lengthAdjust="spacingAndGlyphs" stroke="#151515" stroke-width="0.1" stroke-linejoin="round">No Intervention</text>
<text x="327.0" y="120.4" font-family='"Liberation Sans", Arial, sans-serif' font-size="22.8" font-weight="bold" fill="#0d0d0d" text-anchor="start" textLength="262.0" lengthAdjust="spacingAndGlyphs" stroke="#0d0d0d" stroke-width="0.7" stroke-linejoin="round">Social distancing measures taken</text>
<text x="326.0" y="153.7" font-family='"Liberation Sans", Arial, sans-serif' font-size="22" font-weight="normal" fill="#151515" text-anchor="start" textLength="177.8" lengthAdjust="spacingAndGlyphs" stroke="#151515" stroke-width="0.3" stroke-linejoin="round">After reaching 500 cases</text>
<text x="326.0" y="185.5" font-family='"Liberation Sans", Arial, sans-serif' font-size="22" font-weight="normal" fill="#151515" text-anchor="start" textLength="192.0" lengthAdjust="spacingAndGlyphs" stroke="#151515" stroke-width="0.3" stroke-linejoin="round">After reaching 2,000 cases</text>
<text x="10.2" y="184.0" font-family='"Liberation Sans", Arial, sans-serif' font-size="19" font-weight="normal" fill="#151515" text-anchor="start" textLength="35.2" lengthAdjust="spacingAndGlyphs" stroke="#151515" stroke-width="0.3" stroke-linejoin="round">Cases</text>
<text x="5.0" y="205.3" font-family='"Liberation Sans", Arial, sans-serif' font-size="18.8" font-weight="normal" fill="#151515" text-anchor="start" textLength="42.8" lengthAdjust="spacingAndGlyphs" stroke="#151515" stroke-width="0.3" stroke-linejoin="round">15,000</text>
<text x="5.0" y="233.5" font-family='"Liberation Sans", Arial, sans-serif' font-size="18.8" font-weight="normal" fill="#151515" text-anchor="start" textLength="42.8" lengthAdjust="spacingAndGlyphs" stroke="#151515" stroke-width="0.3" stroke-linejoin="round">10,000</text>
<text x="12.1" y="262.0" font-family='"Liberation Sans", Arial, sans-serif' font-size="18.8" font-weight="normal" fill="#151515" text-anchor="start" textLength="35.7" lengthAdjust="spacingAndGlyphs" stroke="#151515" stroke-width="0.3" stroke-linejoin="round">5,000</text>
<text x="39.8" y="290.5" font-family='"Liberation Sans", Arial, sans-serif' font-size="18.8" font-weight="normal" fill="#151515" text-anchor="start" textLength="6.8" lengthAdjust="spacingAndGlyphs" stroke="#151515" stroke-width="0.3" stroke-linejoin="round">0</text>
<text x="37.1" y="314.8" font-family='"Liberation Sans", Arial, sans-serif' font-size="18.8" font-weight="normal" fill="#151515" text-anchor="start" textLength="37.8" lengthAdjust="spacingAndGlyphs" stroke="#151515" stroke-width="0.3" stroke-linejoin="round">0 days</text>
<text x="97.7" y="314.8" font-family='"Liberation Sans", Arial, sans-serif' font-size="18.8" font-weight="normal" fill="#151515" text-anchor="start" textLength="7.4" lengthAdjust="spacingAndGlyphs" stroke="#151515" stroke-width="0.3" stroke-linejoin="round">5</text>
<text x="141.0" y="314.8" font-family='"Liberation Sans", Arial, sans-serif' font-size="18.8" font-weight="normal" fill="#151515" text-anchor="start" textLength="15.0" lengthAdjust="spacingAndGlyphs" stroke="#151515" stroke-width="0.3" stroke-linejoin="round">10</text>
<text x="186.2" y="314.8" font-family='"Liberation Sans", Arial, sans-serif' font-size="18.8" font-weight="normal" fill="#151515" text-anchor="start" textLength="15.0" lengthAdjust="spacingAndGlyphs" stroke="#151515" stroke-width="0.3" stroke-linejoin="round">15</text>
<text x="232.7" y="314.8" font-family='"Liberation Sans", Arial, sans-serif' font-size="18.8" font-weight="normal" fill="#151515" text-anchor="start" textLength="15.0" lengthAdjust="spacingAndGlyphs" stroke="#151515" stroke-width="0.3" stroke-linejoin="round">20</text>
<text x="281.0" y="314.8" font-family='"Liberation Sans", Arial, sans-serif' font-size="18.8" font-weight="normal" fill="#151515" text-anchor="start" textLength="15.0" lengthAdjust="spacingAndGlyphs" stroke="#151515" stroke-width="0.3" stroke-linejoin="round">25</text>
<text x="325.9" y="314.8" font-family='"Liberation Sans", Arial, sans-serif' font-size="18.8" font-weight="normal" fill="#151515" text-anchor="start" textLength="15.0" lengthAdjust="spacingAndGlyphs" stroke="#151515" stroke-width="0.3" stroke-linejoin="round">30</text>
<text x="373.1" y="314.8" font-family='"Liberation Sans", Arial, sans-serif' font-size="18.8" font-weight="normal" fill="#151515" text-anchor="start" textLength="15.0" lengthAdjust="spacingAndGlyphs" stroke="#151515" stroke-width="0.3" stroke-linejoin="round">35</text>
<text x="421.6" y="314.8" font-family='"Liberation Sans", Arial, sans-serif' font-size="18.8" font-weight="normal" fill="#151515" text-anchor="start" textLength="15.0" lengthAdjust="spacingAndGlyphs" stroke="#151515" stroke-width="0.3" stroke-linejoin="round">40</text>
<text x="467.8" y="314.8" font-family='"Liberation Sans", Arial, sans-serif' font-size="18.8" font-weight="normal" fill="#151515" text-anchor="start" textLength="15.0" lengthAdjust="spacingAndGlyphs" stroke="#151515" stroke-width="0.3" stroke-linejoin="round">45</text>
<text x="517.9" y="314.8" font-family='"Liberation Sans", Arial, sans-serif' font-size="18.8" font-weight="normal" fill="#151515" text-anchor="start" textLength="15.0" lengthAdjust="spacingAndGlyphs" stroke="#151515" stroke-width="0.3" stroke-linejoin="round">50</text>
<text x="564.8" y="314.8" font-family='"Liberation Sans", Arial, sans-serif' font-size="18.8" font-weight="normal" fill="#151515" text-anchor="start" textLength="15.0" lengthAdjust="spacingAndGlyphs" stroke="#151515" stroke-width="0.3" stroke-linejoin="round">55</text>
<text x="610.5" y="314.8" font-family='"Liberation Sans", Arial, sans-serif' font-size="18.8" font-weight="normal" fill="#151515" text-anchor="start" textLength="15.0" lengthAdjust="spacingAndGlyphs" stroke="#151515" stroke-width="0.3" stroke-linejoin="round">60</text>
<rect x="0" y="339.6" width="635" height="216.39999999999998" fill="#f1f1f1"/>
<text x="196.6" y="372.2" font-family='"Liberation Sans", Arial, sans-serif' font-size="26" font-weight="bold" fill="#0d0d0d" text-anchor="start" textLength="242.4" lengthAdjust="spacingAndGlyphs" stroke="#0d0d0d" stroke-width="0.9" stroke-linejoin="round">No. of cases after 60 days</text>
<text x="24.0" y="421.1" font-family='"Liberation Sans", Arial, sans-serif' font-size="24.3" font-weight="normal" fill="#151515" text-anchor="start" textLength="149.8" lengthAdjust="spacingAndGlyphs" stroke="#151515" stroke-width="0.3" stroke-linejoin="round">No measures taken</text>
<text x="24.0" y="460.8" font-family='"Liberation Sans", Arial, sans-serif' font-size="24.3" font-weight="normal" fill="#151515" text-anchor="start" textLength="319.4" lengthAdjust="spacingAndGlyphs" stroke="#151515" stroke-width="0.3" stroke-linejoin="round">Measures taken after reaching 500 cases</text>
<text x="24.0" y="501.0" font-family='"Liberation Sans", Arial, sans-serif' font-size="24.3" font-weight="normal" fill="#151515" text-anchor="start" textLength="330.6" lengthAdjust="spacingAndGlyphs" stroke="#151515" stroke-width="0.3" stroke-linejoin="round">Measures taken after reaching 2000 cases</text>
<text x="438.1" y="421.0" font-family='"Liberation Sans", Arial, sans-serif' font-size="25" font-weight="bold" fill="#0d0d0d" text-anchor="start" textLength="60.4" lengthAdjust="spacingAndGlyphs" stroke="#0d0d0d" stroke-width="1.25" stroke-linejoin="round">32,768</text>
<text x="438.1" y="461.0" font-family='"Liberation Sans", Arial, sans-serif' font-size="25" font-weight="bold" fill="#0d0d0d" text-anchor="start" textLength="50.9" lengthAdjust="spacingAndGlyphs" stroke="#0d0d0d" stroke-width="1.25" stroke-linejoin="round">4,096</text>
<text x="438.1" y="501.1" font-family='"Liberation Sans", Arial, sans-serif' font-size="25" font-weight="bold" fill="#0d0d0d" text-anchor="start" textLength="41.9" lengthAdjust="spacingAndGlyphs" stroke="#0d0d0d" stroke-width="1.25" stroke-linejoin="round">8192</text>
<line x1="17.3" x2="582.8" y1="430.8" y2="430.8" stroke="#b4b4b4" stroke-width="1.4"/>
<line x1="17.3" x2="582.8" y1="470.5" y2="470.5" stroke="#b4b4b4" stroke-width="1.4"/>
<text x="531.4" y="529.1" font-family='"Liberation Sans", Arial, sans-serif' font-size="20.8" font-weight="normal" fill="#222" text-anchor="start" textLength="93.6" lengthAdjust="spacingAndGlyphs" stroke="#222" stroke-width="0.3" stroke-linejoin="round">Source: Statista</text>
<defs><linearGradient id="toig" x1="0" y1="0" x2="0" y2="1"><stop offset="0" stop-color="#ee1c25"/><stop offset="0.6" stop-color="#e01b24"/><stop offset="1" stop-color="#b8161d"/></linearGradient><linearGradient id="gpg" x1="0" y1="0" x2="0" y2="1"><stop offset="0" stop-color="#9c9c9c"/><stop offset="1" stop-color="#7e7e7e"/></linearGradient></defs>
<rect x="0" y="537.7" width="635" height="18.299999999999955" fill="#333333"/>
<rect x="34.3" y="538.0" width="35.6" height="18.299999999999955" fill="url(#toig)"/>
<text x="38.9" y="551.2" font-family='"Liberation Serif", "Times New Roman", serif' font-size="15.5" font-weight="bold" fill="#ffffff" text-anchor="start" textLength="26.4" lengthAdjust="spacingAndGlyphs" stroke="#ffffff" stroke-width="0.5" stroke-linejoin="round">TOI</text>
<text x="81.9" y="551.0" font-family='"Liberation Sans", Arial, sans-serif' font-size="14.6" font-weight="bold" fill="#ffffff" text-anchor="start" textLength="190.6" lengthAdjust="spacingAndGlyphs" xml:space="preserve" stroke="#ffffff" stroke-width="0.5" stroke-linejoin="round">FOR MORE  INFOGRAPHICS DOWNLOAD</text>
<text x="275.2" y="551.0" font-family='"Liberation Sans", Arial, sans-serif' font-size="14.6" font-weight="bold" fill="#ee3a2a" text-anchor="start" textLength="99.9" lengthAdjust="spacingAndGlyphs" xml:space="preserve" stroke="#ee3a2a" stroke-width="0.5" stroke-linejoin="round">TIMES OF INDIA  APP</text>
<rect x="389.3" y="537.7" width="55.3" height="18.299999999999955" rx="2.2" fill="#080808"/>
<g transform="translate(389.4,538.9) scale(0.0134)" fill="#ffffff"><path d="M788 540c-1-112 92-166 96-169-52-76-133-87-162-88-69-7-135 41-170 41-35 0-89-40-146-39-75 1-144 44-183 111-78 135-20 335 56 445 37 54 81 114 139 112 56-2 77-36 145-36 67 0 86 36 145 35 60-1 98-55 135-109 42-62 60-122 61-125-1-1-117-45-118-178z"/><path d="M677 211c31-37 52-89 46-141-45 2-99 30-131 67-29 33-54 86-47 137 50 4 101-25 132-63z"/></g>
<text x="403.4" y="543.9" font-family='"Liberation Sans", Arial, sans-serif' font-size="5.6" font-weight="normal" fill="#ffffff" text-anchor="start" textLength="38.8" lengthAdjust="spacingAndGlyphs" stroke="#ffffff" stroke-width="0.15" stroke-linejoin="round">Available on the</text>
<text x="403.3" y="551.8" font-family='"Liberation Sans", Arial, sans-serif' font-size="9.8" font-weight="normal" fill="#ffffff" text-anchor="start" textLength="38.4" lengthAdjust="spacingAndGlyphs" stroke="#ffffff" stroke-width="0.25" stroke-linejoin="round">App Store</text>
<rect x="461.1" y="537.7" width="52.2" height="21.299999999999955" rx="2.5" fill="url(#gpg)"/>
<g transform="translate(463.2,541.3)"><path d="M0,0 L0,12.2 L5.2,6.1 Z" fill="#35b5d6"/><path d="M0,0 L5.2,6.1 L7.2,4.1 Z" fill="#5fc36b"/><path d="M0,12.2 L5.2,6.1 L7.2,8.1 Z" fill="#e8413c"/><path d="M5.2,6.1 L7.2,4.1 L9.4,6.1 L7.2,8.1 Z" fill="#f7b73c"/></g>
<text x="476.0" y="541.6" font-family='"Liberation Sans", Arial, sans-serif' font-size="2.6" font-weight="bold" fill="#e6e6e6" text-anchor="start" textLength="17.0" lengthAdjust="spacingAndGlyphs">ANDROID APP ON</text>
<text x="475.6" y="550.4" font-family='"Liberation Sans", Arial, sans-serif' font-size="9.6" font-weight="normal" fill="#f4f4f4" text-anchor="start" textLength="36.6" lengthAdjust="spacingAndGlyphs" stroke="#f4f4f4" stroke-width="0.2" stroke-linejoin="round">Google play</text>
<rect x="513.3" y="537.7" width="62.5" height="18.299999999999955" fill="#231f20"/>
<path d="M524.1,543.3 L535.7,541.8 L535.7,551.8 L524.1,550.3 Z" fill="#ffffff"/>
<path d="M527.4,542.8 Q527.6,539.4 529.6,539.5 Q531.4,539.6 531.6,542.3" fill="none" stroke="#ffffff" stroke-width="0.8"/>
<g fill="#231f20"><path d="M526.6,545.0 L528.7,544.7 L528.7,546.5 L526.6,546.5 Z"/><path d="M529.3,544.6 L531.9,544.2 L531.9,546.5 L529.3,546.5 Z"/><path d="M526.6,547.1 L528.7,547.1 L528.7,548.9 L526.6,548.6 Z"/><path d="M529.3,547.1 L531.9,547.1 L531.9,549.4 L529.3,549.0 Z"/></g>
<text x="539.0" y="545.6" font-family='"Liberation Sans", Arial, sans-serif' font-size="7.8" font-weight="normal" fill="#c4c4c4" text-anchor="start" textLength="26.0" lengthAdjust="spacingAndGlyphs">Windows</text>
<text x="539.0" y="551.5" font-family='"Liberation Sans", Arial, sans-serif' font-size="7.8" font-weight="normal" fill="#c4c4c4" text-anchor="start" textLength="18.0" lengthAdjust="spacingAndGlyphs">Phone</text>
</svg>
</body></html>
